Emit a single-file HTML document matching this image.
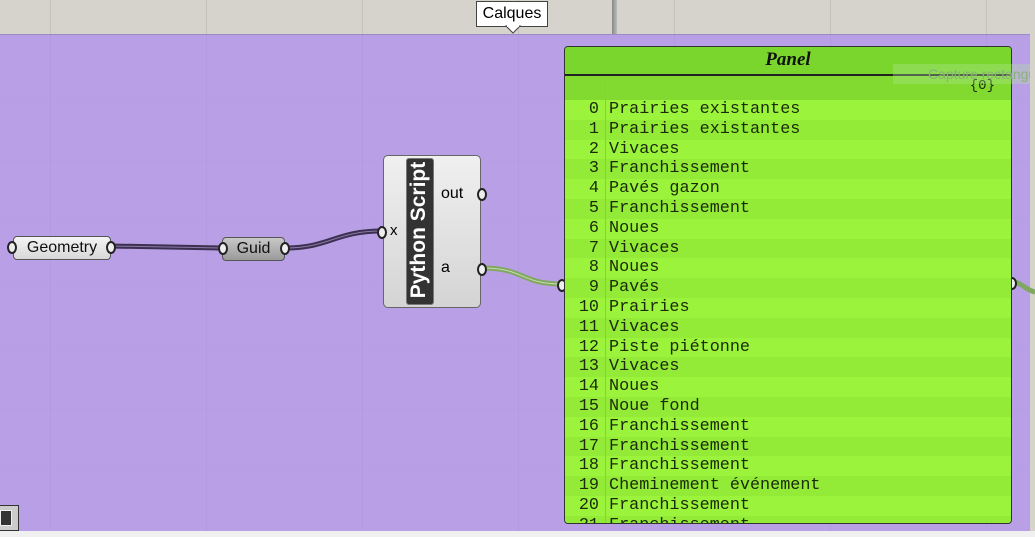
<!DOCTYPE html>
<html><head><meta charset="utf-8"><style>
body{margin:0;width:1035px;height:537px;overflow:hidden;background:#d6d3cc;position:relative;font-family:"Liberation Sans",sans-serif}
.abs{position:absolute}
#grp{left:0;top:34px;width:1030px;height:497px;background:#b9a0e6;border-top:1px solid #9d88c8;
background-image:linear-gradient(#a58dd622 1px,transparent 1px),linear-gradient(90deg,#a58dd655 1px,transparent 1px);background-size:100% 62px,156px 100%;background-position:0 1px,50px 0}
.mono{font-family:"Liberation Mono",monospace;font-size:16.8px;color:#1a2a0a}
.row{position:absolute;left:0;width:446px;height:20px}
.num{position:absolute;right:412px;top:0px;text-align:right}
.txt{position:absolute;left:44px;top:0px}
.pill{position:absolute;border:1px solid #555;border-radius:4px;font-size:16px;text-align:center;color:#111}
.port{position:absolute;width:6px;height:9px;border:2px solid #222;border-radius:50%;background:#eee}
</style></head><body>
<div class="abs" style="left:0;top:0;width:1035px;height:34px;background:#d6d3cc;background-image:linear-gradient(90deg,#c6c2bb 1px,transparent 1px);background-size:156px 100%;background-position:50px 0"></div>
<div class="abs" style="left:612px;top:0;width:5px;height:34px;background:linear-gradient(90deg,#888,#bbb)"></div>
<div class="abs" id="grp"></div>
<div class="abs" style="left:0;top:531px;width:1035px;height:6px;background:#f0f0f0"></div>
<div class="abs" style="left:1030px;top:34px;width:5px;height:497px;background:#d6d3cc"></div>
<div class="abs" style="left:0;top:505px;width:18px;height:24px;background:#ccc;border:1px solid #333;border-left:none"><div style="margin:4px 4px 0 0;width:10px;height:14px;background:#333;border:1px solid #eee"></div></div>
<div class="abs" style="left:476px;top:1px;width:70px;height:24px;background:#fff;border:1px solid #444;font-size:16px;text-align:center;line-height:24px">Calques</div>
<svg class="abs" style="left:0;top:0" width="1035" height="537">
<polygon points="506,26 520,26 513,33" fill="#fff" stroke="#444"/>
<line x1="507" y1="26" x2="519" y2="26" stroke="#fff" stroke-width="2"/>
<path d="M110 246 L222 248" stroke="#3c3050" stroke-width="5" fill="none"/>
<path d="M110 246 L222 248" stroke="#8a78a8" stroke-width="1" fill="none"/>
<path d="M285 248 C330 248 335 231 382 231" stroke="#3c3050" stroke-width="5" fill="none"/>
<path d="M285 248 C330 248 335 231 382 231" stroke="#8a78a8" stroke-width="1" fill="none"/>
<path d="M482 268 C525 268 520 284 562 284" stroke="#80a860" stroke-width="5" fill="none"/>
<path d="M482 268 C525 268 520 284 562 284" stroke="#c8d8b0" stroke-width="1" fill="none"/>
<path d="M1012 282 C1022 282 1025 290 1035 292" stroke="#80a860" stroke-width="5" fill="none"/>
</svg>
<div class="pill" style="left:13px;top:236px;width:96px;height:22px;line-height:22px;background:linear-gradient(#f4f4f4,#d8d8d8)">Geometry</div>
<div class="pill" style="left:222px;top:237px;width:61px;height:22px;line-height:22px;background:linear-gradient(#c8c8c8,#9a9a9a)">Guid</div>
<div class="port" style="left:7px;top:241px"></div>
<div class="port" style="left:106px;top:241px"></div>
<div class="port" style="left:218px;top:242px"></div>
<div class="port" style="left:280px;top:242px"></div>
<div class="abs" style="left:383px;top:155px;width:96px;height:151px;border:1px solid #666;border-radius:5px;background:linear-gradient(#f0f0f0,#d4d4d4)"></div>
<div class="abs" style="left:406px;top:158px;width:26px;height:145px;background:#333;border:1px solid #777;border-radius:3px"></div>
<div class="abs" style="left:419px;top:230px;width:0;height:0"><div style="position:absolute;transform:translate(-50%,-50%) rotate(-90deg);white-space:nowrap;color:#fff;font-weight:bold;font-size:21px">Python Script</div></div>
<div class="abs" style="left:390px;top:222px;font-size:15px">x</div>
<div class="abs" style="left:441px;top:185px;font-size:16px">out</div>
<div class="abs" style="left:441px;top:259px;font-size:16px">a</div>
<div class="port" style="left:377px;top:226px"></div>
<div class="port" style="left:477px;top:188px"></div>
<div class="port" style="left:477px;top:263px"></div>
<div class="port" style="left:557px;top:279px"></div>
<div class="port" style="left:1007px;top:277px"></div>
<div class="abs" style="left:564px;top:46px;width:446px;height:476px;border:1px solid #333;border-radius:4px;background:#99f13a;overflow:hidden">
<div style="position:absolute;left:0;top:0;width:446px;height:27px;background:#7ad52c;border-bottom:2px solid #222;text-align:center;font-family:'Liberation Serif',serif;font-style:italic;font-weight:bold;font-size:19px;line-height:26px;color:#111">Panel</div>
<div style="position:absolute;left:0;top:29px;width:446px;height:24px;background:#82da30"><span class="mono" style="position:absolute;right:16px;top:2px;font-size:14px">{0}</span></div>
<div id="rows"></div>
<div style="position:absolute;left:40px;top:29px;width:1px;height:460px;background:#8ccc40"></div>
</div>
<div class="abs" style="left:893px;top:64px;width:137px;height:20px;background:#b0e89a55;color:#8ab07a;font-size:14px;line-height:20px;padding-left:35px;overflow:hidden;white-space:nowrap;box-sizing:border-box">Capture rectangu</div>
<script>
var t=["Prairies existantes","Prairies existantes","Vivaces","Franchissement","Pavés gazon","Franchissement","Noues","Vivaces","Noues","Pavés","Prairies","Vivaces","Piste piétonne","Vivaces","Noues","Noue fond","Franchissement","Franchissement","Franchissement","Cheminement événement","Franchissement","Franchissement"];
var h="";for(var i=0;i<t.length;i++){h+='<div class="row mono" style="top:'+(53+i*19.8)+'px;background:'+(i%2?'#93ea37':'#9cf33c')+'"><span class="num">'+i+'</span><span class="txt">'+t[i]+'</span></div>';}
document.getElementById("rows").innerHTML=h;
</script>
</body></html>
